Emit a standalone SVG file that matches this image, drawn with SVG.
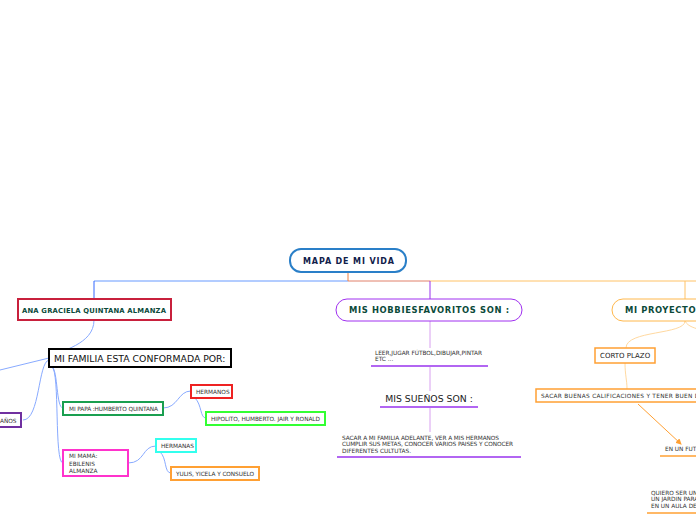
<svg xmlns="http://www.w3.org/2000/svg" width="696" height="520" viewBox="0 0 696 520">
<style>
text{font-family:"DejaVu Sans","Liberation Sans",sans-serif;fill:#333}
.s{font-size:5.8px}
.b{font-weight:bold;fill:#0b4a3a;font-size:7px}
.n{fill:#fff}
.c{fill:none;stroke-width:1}
</style>
<defs><marker id="ar" markerWidth="6" markerHeight="6" refX="5" refY="3" orient="auto"><path d="M0,0L6,3L0,6z" fill="#ffa033"/></marker></defs>
<rect width="696" height="520" fill="#fff"/>
<g id="connectors" class="c">
<path d="M94,281H348" stroke="#6699ff" fill="none"/>
<path d="M348,281H430" stroke="#e0806a" fill="none"/>
<path d="M430,281H700" stroke="#ffc266" fill="none"/>
<path d="M348,272V281" stroke="#f08040" fill="none"/>
<path d="M94,281V299" stroke="#3366ff" fill="none"/>
<path d="M430,281V299" stroke="#9933ee" fill="none"/>
<path d="M685,281V299" stroke="#ffc266" fill="none"/>
<path d="M94,320C94,345 60,350 49,358" stroke="#88aaff" fill="none"/>
<path d="M49,358L0,370" stroke="#88aaff" fill="none"/>
<path d="M23,420C40,420 38,362 49,360" stroke="#88aaff" fill="none"/>
<path d="M52,367C58,370 56,408 63,408" stroke="#88aaff" fill="none"/>
<path d="M52,367C60,372 54,463 63,463" stroke="#88aaff" fill="none"/>
<path d="M163,408C178,408 178,391 191,391" stroke="#88aaff" fill="none"/>
<path d="M195,398C202,405 200,418 206,418" stroke="#88aaff" fill="none"/>
<path d="M128,463C145,463 142,446 156,446" stroke="#88aaff" fill="none"/>
<path d="M160,452C167,458 164,473 171,473" stroke="#88aaff" fill="none"/>
<path d="M430,321V348M430,367V391M430,408V432" stroke="#d8a0f0" fill="none"/>
<path d="M685,321C685,335 626,330 626,348" stroke="#ffd9a0" fill="none"/>
<path d="M685,321C688,327 696,328 700,330" stroke="#ffd9a0" fill="none"/>
<path d="M625,363C625,375 627,380 627,389" stroke="#ffd9a0" fill="none"/>
<path d="M638,404L681,444" stroke="#ffa033" fill="none" marker-end="url(#ar)"/>
</g>
<g id="root"><rect x="290" y="249" width="116" height="23" rx="11" class="n" stroke="#2a7fc8" stroke-width="2"/><text x="303" y="264" textLength="91" style="font-weight:bold;font-size:8px;fill:#10204a">MAPA DE MI VIDA</text></g>
<g id="ana"><rect x="18" y="299" width="153" height="21" class="n" stroke="#c8203c" stroke-width="2"/><text x="22" y="313" textLength="144" class="b" style="font-size:6.8px">ANA GRACIELA QUINTANA ALMANZA</text></g>
<g id="hobbies"><rect x="336" y="299" width="186" height="22" rx="11" class="n" stroke="#a030f0" stroke-width="1"/><text x="349" y="313" textLength="160" class="b" style="font-size:8.4px">MIS HOBBIESFAVORITOS SON :</text></g>
<g id="proyecto"><rect x="612" y="299" width="110" height="22" rx="11" class="n" stroke="#ffb84d" stroke-width="1"/><text x="625" y="313" class="b" style="font-size:8.4px;letter-spacing:0.6px">MI PROYECTO DE VIDA</text></g>
<g id="familia"><rect x="49" y="349" width="182" height="18" class="n" stroke="#000" stroke-width="2"/><text x="54" y="362" style="font-size:9.3px;fill:#111">MI FAMILIA ESTA CONFORMADA POR:</text></g>
<g id="anos"><rect x="-20" y="413" width="41" height="14" class="n" stroke="#7030a0" stroke-width="2"/><text x="0" y="423" class="s">AÑOS</text></g>
<g id="papa"><rect x="63" y="402" width="100" height="13" class="n" stroke="#1a9f50" stroke-width="2"/><text x="69" y="411" textLength="89" class="s">MI PAPÁ :HUMBERTO QUINTANA</text></g>
<g id="hermanos"><rect x="191" y="385" width="41" height="13" class="n" stroke="#ee2222" stroke-width="2"/><text x="196" y="394" class="s">HERMANOS</text></g>
<g id="hipolito"><rect x="206" y="412" width="119" height="13" class="n" stroke="#33ff33" stroke-width="2"/><text x="211" y="421" textLength="109" class="s">HIPOLITO, HUMBERTO. JAIR Y RONALD</text></g>
<g id="mama"><rect x="63" y="450" width="65" height="26" class="n" stroke="#ff33cc" stroke-width="2"/><text x="69" y="458" class="s">MI MAMÁ:</text><text x="69" y="466" class="s">EBILENIS</text><text x="69" y="473" class="s">ALMANZA</text></g>
<g id="hermanas"><rect x="156" y="439" width="40" height="13" class="n" stroke="#33ffee" stroke-width="2"/><text x="161" y="448" class="s">HERMANAS</text></g>
<g id="yulis"><rect x="171" y="467" width="88" height="13" class="n" stroke="#ffa033" stroke-width="2"/><text x="176" y="476" textLength="78" class="s">YULIS, YICELA Y CONSUELO</text></g>
<g id="leer"><text x="375" y="355" textLength="107" class="s">LEER,JUGAR FÚTBOL,DIBUJAR,PINTAR</text><text x="375" y="361" class="s">ETC ...</text><path d="M371,366H488" stroke="#9933ee" stroke-width="1.5"/></g>
<g id="suenos"><text x="429" y="402" text-anchor="middle" style="font-size:9.3px;fill:#222">MIS SUEÑOS SON :</text><path d="M380,407H478" stroke="#9933ee" stroke-width="1.5"/></g>
<g id="sacarfam"><text x="342" y="440" textLength="157" class="s">SACAR A MI FAMILIA ADELANTE, VER A MIS HERMANOS</text><text x="342" y="446" textLength="171" class="s">CUMPLIR SUS METAS, CONOCER VARIOS PAISES Y CONOCER</text><text x="342" y="453" class="s">DIFERENTES CULTUTAS.</text><path d="M337,457H521" stroke="#9933ee" stroke-width="1.5"/></g>
<g id="corto"><rect x="595" y="348" width="60" height="15" class="n" stroke="#ffa033" stroke-width="1.5"/><text x="600" y="358" style="font-size:7px;fill:#222">CORTO PLAZO</text></g>
<g id="sacar"><rect x="536" y="389" width="190" height="13" class="n" stroke="#ffa033" stroke-width="1.5"/><text x="541" y="398" class="s" style="letter-spacing:0.3px">SACAR BUENAS CALIFICACIONES Y TENER BUEN DESEMPEÑO</text></g>
<g id="futuro"><text x="665" y="451" class="s">EN UN FUTURO</text><path d="M660,456H700" stroke="#ffa033" stroke-width="1.5"/></g>
<g id="quiero"><text x="651" y="495" class="s">QUIERO SER UNA</text><text x="651" y="501" class="s">UN JARDIN PARA</text><text x="651" y="508" class="s">EN UN AULA DE</text><path d="M647,513H700" stroke="#ffa033" stroke-width="1.5"/></g>
</svg>
